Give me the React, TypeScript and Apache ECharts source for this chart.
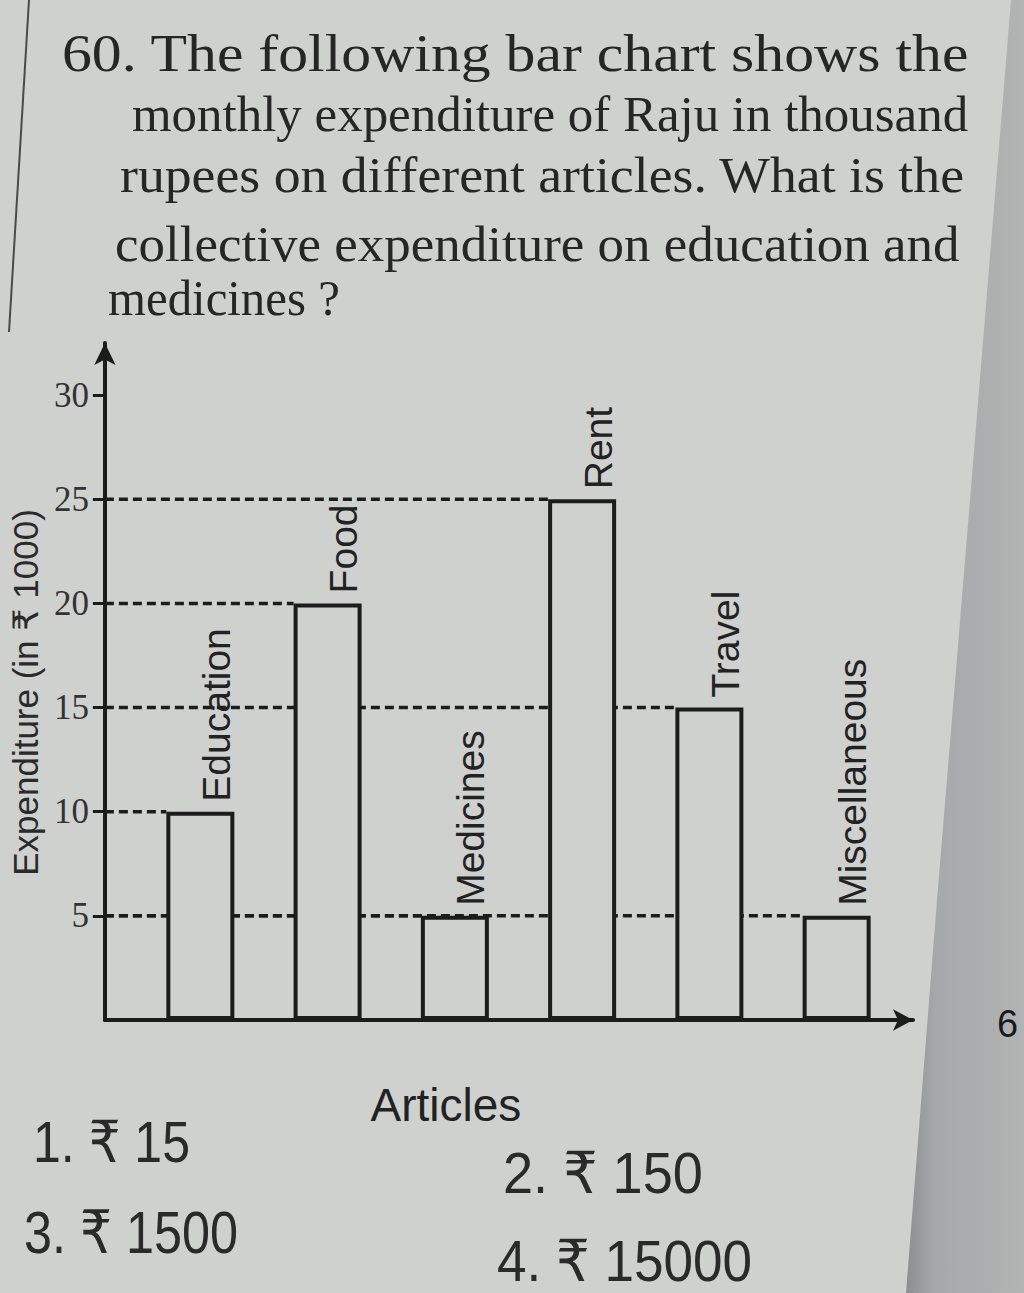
import React, { useEffect, useRef } from 'react';
import * as echarts from 'echarts';

// ---------- data ----------
const categories = ['Education', 'Food', 'Medicines', 'Rent', 'Travel', 'Miscellaneous'];
const expenditure = [10, 20, 5, 25, 15, 5];
const yTickValues = [5, 10, 15, 20, 25, 30];
const yAxisName = 'Expenditure (in ₹ 1000)';
const xAxisName = 'Articles';
const questionLines = [
  '60. The following bar chart shows the',
  'monthly expenditure of Raju in thousand',
  'rupees on different articles. What is the',
  'collective expenditure on education and',
  'medicines ?',
];
const optionTexts = ['1. ₹ 15', '2. ₹ 150', '3. ₹ 1500', '4. ₹ 15000'];
const pageNumber = '6';

// ---------- layout / style ----------
const PAPER = '#cfd1cf';
const INK = '#1c1c1c';
const BAR_W = 68;
const SERIF = "'Liberation Serif', 'DejaVu Serif', serif";
const SANS = "'Liberation Sans', 'DejaVu Sans', 'Noto Sans', sans-serif";

const questionBoxes = [
  { x: 62, x2: 970, base: 72, size: 52 },
  { x: 132, x2: 968, base: 132, size: 50 },
  { x: 120, x2: 965, base: 193, size: 50 },
  { x: 115, x2: 960, base: 262, size: 50 },
  { x: 108, x2: 340, base: 316, size: 50 },
];
const optionBoxes = [
  { x: 33, x2: 190, base: 1162, size: 58 },
  { x: 503, x2: 703, base: 1193, size: 58 },
  { x: 24, x2: 238, base: 1253, size: 60 },
  { x: 497, x2: 752, base: 1281, size: 58 },
];

export default function App() {
  const ref = useRef<HTMLDivElement>(null);

  useEffect(() => {
    const el = ref.current;
    if (!el) return;
    const chart = echarts.init(el, null, { renderer: 'svg' });

    const ctx = document.createElement('canvas').getContext('2d');
    const fit = (text: string, size: number, family: string, target: number) => {
      if (!ctx) return 1;
      ctx.font = `${size}px ${family}`;
      const w = ctx.measureText(text).width;
      return w > 0 ? target / w : 1;
    };

    const textGraphics: any[] = [];
    questionLines.forEach((t, i) => {
      const b = questionBoxes[i];
      textGraphics.push({
        type: 'text',
        x: b.x,
        y: b.base - 0.35 * b.size,
        scaleX: fit(t, b.size, SERIF, b.x2 - b.x),
        z: 10,
        style: {
          text: t,
          fontSize: b.size,
          fontFamily: SERIF,
          fill: '#262626',
          align: 'left',
          verticalAlign: 'middle',
        },
      });
    });
    optionTexts.forEach((t, i) => {
      const b = optionBoxes[i];
      textGraphics.push({
        type: 'text',
        x: b.x,
        y: b.base - 0.35 * b.size,
        scaleX: fit(t, b.size, SANS, b.x2 - b.x),
        z: 10,
        style: {
          text: t,
          fontSize: b.size,
          fontFamily: SANS,
          fill: '#2a2a2a',
          align: 'left',
          verticalAlign: 'middle',
        },
      });
    });

    const barData = expenditure.map((v, i) => [i, v]);

    chart.setOption({
      animation: false,
      backgroundColor: PAPER,
      grid: { left: 100, top: 343, width: 813, height: 677, containLabel: false },
      xAxis: {
        type: 'value',
        min: -0.75,
        max: 5.6,
        name: xAxisName,
        nameLocation: 'middle',
        nameGap: 62,
        nameTextStyle: {
          fontFamily: SANS,
          fontSize: 46,
          color: '#222',
          padding: [0, 126, 0, 0],
        },
        axisLine: {
          show: true,
          onZero: false,
          symbol: ['none', 'arrow'],
          symbolSize: [16, 20],
          lineStyle: { color: INK, width: 4 },
        },
        axisTick: { show: false },
        axisLabel: { show: false },
        splitLine: { show: false },
      },
      yAxis: {
        type: 'value',
        min: 0,
        max: 32.5,
        name: yAxisName,
        nameLocation: 'middle',
        nameGap: 60,
        nameTextStyle: {
          fontFamily: SANS,
          fontSize: 35,
          color: '#2a2a2a',
          padding: [0, 22, 0, 0],
        },
        axisLine: {
          show: true,
          onZero: false,
          symbol: ['none', 'arrow'],
          symbolSize: [16, 22],
          lineStyle: { color: INK, width: 4 },
        },
        axisTick: {
          show: true,
          customValues: yTickValues,
          length: 12,
          lineStyle: { color: INK, width: 3 },
        },
        axisLabel: {
          show: true,
          customValues: yTickValues,
          margin: 16,
          fontFamily: SERIF,
          fontSize: 35,
          color: '#333',
        },
        splitLine: { show: false },
      },
      series: [
        {
          type: 'custom',
          z: 1,
          silent: true,
          data: barData,
          encode: { x: 0, y: 1 },
          renderItem: (params: any, api: any) => {
            const p = api.coord([api.value(0), api.value(1)]);
            const cs = params.coordSys;
            return {
              type: 'line',
              shape: { x1: cs.x, y1: p[1], x2: p[0] - BAR_W / 2, y2: p[1] },
              style: { stroke: INK, lineWidth: 3.5, lineDash: [9, 5] },
            };
          },
        },
        {
          type: 'bar',
          z: 5,
          data: barData,
          barWidth: BAR_W,
          itemStyle: { color: PAPER, borderColor: INK, borderWidth: 4 },
          label: {
            show: true,
            position: 'top',
            rotate: 90,
            align: 'left',
            verticalAlign: 'middle',
            distance: 10,
            offset: [0, 16],
            fontFamily: SANS,
            fontSize: 39,
            color: '#222',
            formatter: (p: any) => categories[p.dataIndex],
          },
        },
      ],
      graphic: [
        {
          type: 'line',
          z: 10,
          shape: { x1: 29, y1: 0, x2: 9, y2: 332 },
          style: { stroke: '#4a4a4a', lineWidth: 2 },
        },
        {
          type: 'polygon',
          z: 20,
          shape: {
            points: [
              [1011, 0],
              [1024, 0],
              [1024, 1293],
              [906, 1293],
              [937, 900],
              [970, 500],
            ],
          },
          style: {
            fill: {
              type: 'linear',
              x: 0,
              y: 0,
              x2: 1,
              y2: 0,
              colorStops: [
                { offset: 0, color: '#8c8f8f' },
                { offset: 0.25, color: '#a6a9a9' },
                { offset: 1, color: '#b2b4b4' },
              ],
            },
          },
        },
        {
          type: 'text',
          z: 21,
          x: 997,
          y: 1024,
          style: {
            text: pageNumber,
            fontSize: 38,
            fontFamily: SANS,
            fill: '#1a1a1a',
            align: 'left',
            verticalAlign: 'middle',
          },
        },
        ...textGraphics,
      ],
    });

    return () => {
      chart.dispose();
    };
  }, []);

  return (
    <div
      ref={ref}
      style={{ position: 'fixed', left: 0, top: 0, width: 1024, height: 1293 }}
    />
  );
}
